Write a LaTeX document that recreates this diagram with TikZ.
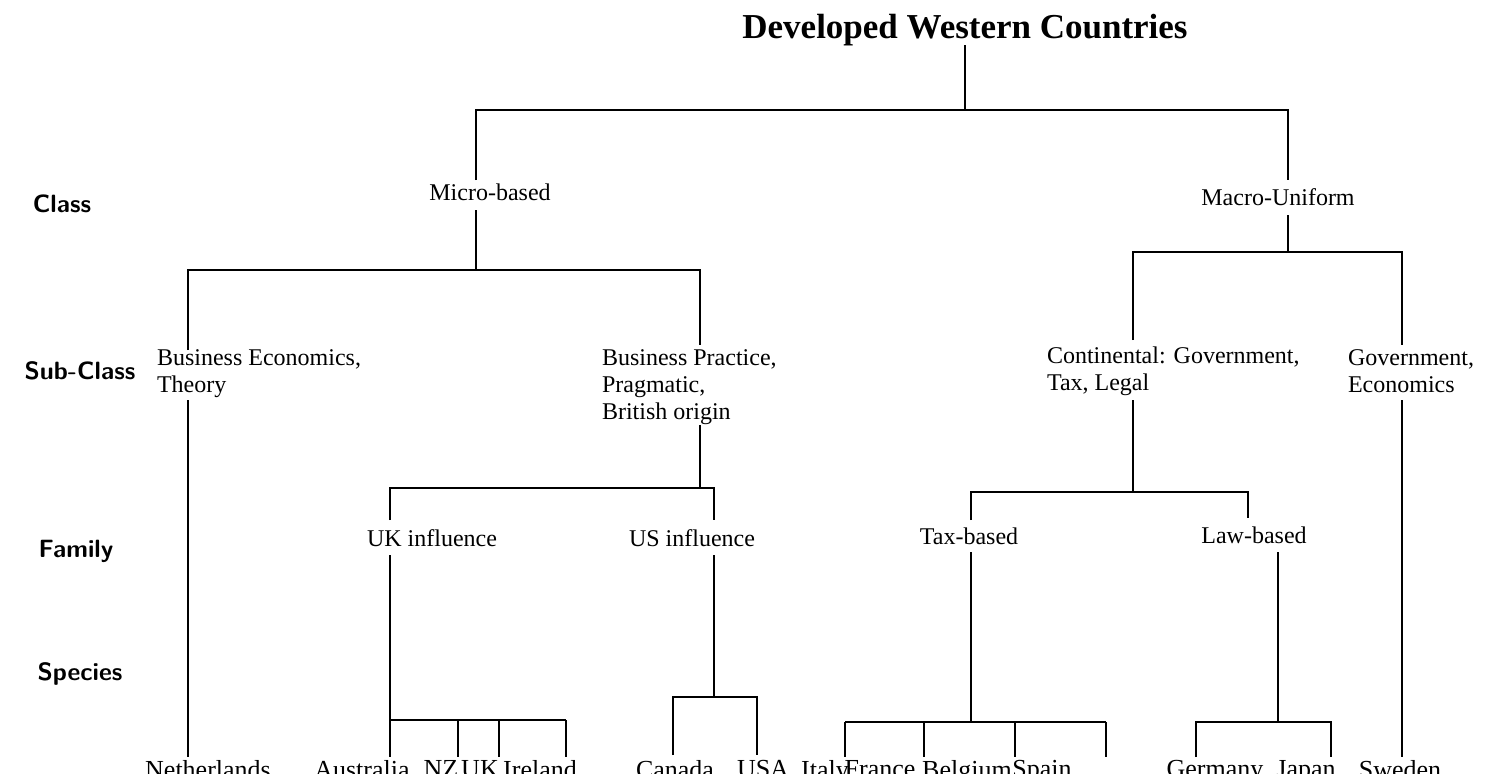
\documentclass[tikz,border=0pt]{standalone}
\usepackage{fontspec}
\setmainfont{Liberation Serif}
\begin{document}
\begin{tikzpicture}[x=0.5pt,y=-0.5pt,line width=1pt,
  lab/.style={font=\fontsize{12}{13.5}\selectfont,inner sep=0pt},
  llab/.style={lab,anchor=north west,align=left},
  side/.style={font=\fontsize{12.5}{14}\selectfont\bfseries\sffamily,inner sep=0pt},
  leaf/.style={font=\fontsize{13}{14}\selectfont,inner sep=0pt,anchor=north}]
\useasboundingbox (0,0) rectangle (1507,773);
\node[font=\fontsize{17.5}{20}\selectfont\bfseries,inner sep=0pt] (t) at (965,30) {Developed Western Countries};
\node[side] (c1) at (62,204) {Class};
\node[side] (c2) at (80,371) {Sub-Class};
\node[side] (c3) at (76,551) {Family};
\node[side] (c4) at (80,674) {Species};
\node[lab] (mb) at (490,192) {Micro-based};
\node[lab] (mu) at (1278,197) {Macro-Uniform};
\node[llab] (be) at (156,349) {Business Economics,\\Theory};
\node[llab] (bp) at (601,349) {Business Practice,\\Pragmatic,\\British origin};
\node[llab] (co) at (1046,346) {Continental: Government,\\Tax, Legal};
\node[llab] (ge) at (1347,349) {Government,\\Economics};
\node[lab] (uk) at (432,538) {UK influence};
\node[lab] (us) at (692,538) {US influence};
\node[lab] (tb) at (969,536) {Tax-based};
\node[lab] (lb) at (1254,535) {Law-based};
\foreach \n/\x/\t in {ne/208/Netherlands,au/362/Australia,nz/441/NZ,ukk/480/UK,ir/540/Ireland,ca/675/Canada,usa/763/USA,it/825/Italy,fr/880/France,be2/967/Belgium,sp/1042/Spain,de/1215/Germany,jp/1306/Japan,sw/1400/Sweden}
  \node[leaf] (\n) at (\x,759) {\t};
\draw (965,45)--(965,110) (476,180)--(476,110)--(1288,110)--(1288,180);
\draw (476,210)--(476,270) (188,350)--(188,270)--(700,270)--(700,345);
\draw (1288,215)--(1288,252) (1133,340)--(1133,252)--(1402,252)--(1402,345);
\draw (188,400)--(188,757) (1402,400)--(1402,757);
\draw (700,425)--(700,488) (390,520)--(390,488)--(714,488)--(714,520);
\draw (1133,400)--(1133,492) (971,520)--(971,492)--(1248,492)--(1248,518);
\draw (390,555)--(390,757) (390,720)--(566,720);
\foreach \x in {458,499,566} \draw (\x,720)--(\x,757);
\draw (714,555)--(714,697) (673,755)--(673,697)--(757,697)--(757,755);
\draw (971,552)--(971,722) (845,722)--(1106,722);
\foreach \x in {845,924,1015,1106} \draw (\x,722)--(\x,757);
\draw (1278,552)--(1278,722) (1196,757)--(1196,722)--(1331,722)--(1331,757);
\end{tikzpicture}
\end{document}
